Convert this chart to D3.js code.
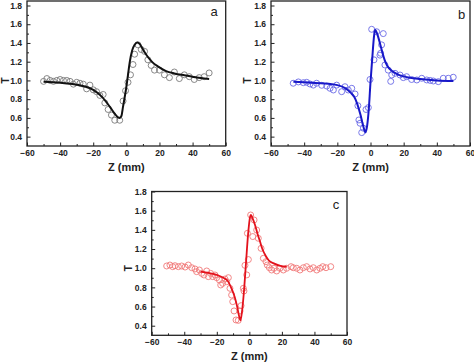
<!DOCTYPE html>
<html>
<head>
<meta charset="utf-8">
<script src="https://cdn.jsdelivr.net/npm/d3@7"></script>
<style>
  body { margin: 0; background: #fff; }
  svg { display: block; font-family: Arial, "Liberation Sans", sans-serif; }
  .tick text { font-size: 8.5px; font-weight: bold; fill: #222; }
  .tick line { stroke: #222; stroke-width: 1; }
</style>
</head>
<body>
<div id="chart"></div>
<script>
// ---- data ----
var xTicks = [-60, -40, -20, 0, 20, 40, 60];
var xMinor = [-50, -30, -10, 10, 30, 50];
var yTicks = [0.4, 0.6, 0.8, 1.0, 1.2, 1.4, 1.6, 1.8];
var yMinor = [0.5, 0.7, 0.9, 1.1, 1.3, 1.5, 1.7];
var panelNames = ["a", "b", "c"];

// panel a: measured points and fitted line
var ptsA = [[-50,0.99],[-48,1.02],[-46,1.00],[-44,0.99],[-42,1.00],[-40,1.01],[-38,1.00],[-36,1.00],[-34,0.99],
  [-32,0.96],[-30,0.98],[-28,0.97],[-26,0.96],[-24,0.91],[-22,0.95],[-20,0.90],[-18,0.88],[-16,0.84],[-14,0.85],
  [-13,0.76],[-11,0.69],[-9,0.63],[-7,0.575],[-4,0.575],[-2,0.78],[-0.5,0.89],[1,0.98],[2.5,1.06],[4,1.17],
  [5,1.28],[7,1.38],[9,1.33],[11,1.31],[13,1.22],[15,1.16],[17,1.11],[20,1.11],[23,1.06],[26,1.03],[29,1.09],
  [32,1.02],[35,1.06],[38,1.04],[41,1.01],[44,1.03],[47,1.04],[50,1.08]];
var fitA = [[-50,0.985],[-40,0.975],[-30,0.955],[-25,0.935],[-20,0.90],[-15,0.83],[-10,0.72],[-7,0.645],[-5,0.605],
  [-4,0.60],[-3,0.62],[-2,0.72],[0,0.93],[1,1.06],[2,1.19],[3.5,1.32],[5,1.38],[6.5,1.405],[8,1.39],[10,1.33],
  [13,1.25],[16,1.19],[19,1.15],[24,1.10],[29,1.075],[35,1.055],[40,1.04],[45,1.025],[50,1.016]];

// panel b
var ptsB = [[-46.6,0.970],[-43.5,0.984],[-40.5,0.976],[-38.5,0.98],[-36.5,0.962],[-34.5,0.95],[-32.5,0.97],
  [-29.4,0.948],[-26.4,0.94],[-24.4,0.916],[-22.4,0.898],[-20.4,0.95],[-17.4,0.88],[-15.4,0.933],[-13.4,0.898],
  [-11.3,0.916],[-9.3,0.855],[-7.6,0.73],[-7,0.578],[-6.3,0.543],[-5.3,0.443],[-4.3,0.49],[-2.7,0.69],[-1.3,0.71],
  [-0.3,1.01],[0.7,1.546],[2.1,1.22],[3.7,1.52],[5.7,1.27],[6.1,1.29],[6.7,1.38],[7.7,1.50],[8.7,1.165],[10.7,1.11],
  [12.2,0.99],[12.8,1.058],[14.8,1.076],[17.8,1.058],[19.8,1.03],[21.8,1.04],[24.8,1.01],[27.9,1.005],[30.9,1.023],
  [33.9,1.005],[36,1.0],[37.9,0.994],[40.9,0.987],[43.9,1.023],[46.9,1.023],[49.9,1.034]];
var fitB = [[-46.5,0.985],[-40,0.98],[-30,0.97],[-20,0.95],[-15,0.915],[-12,0.87],[-10,0.83],[-8,0.75],[-6,0.63],
  [-4.5,0.52],[-3,0.445],[-2,0.52],[-1,0.70],[0,0.98],[1,1.22],[2,1.45],[2.8,1.54],[4,1.50],[5.5,1.41],[7,1.31],
  [8.5,1.22],[10,1.16],[13,1.10],[17,1.06],[22,1.035],[30,1.015],[40,1.0],[50,0.995]];

// panel c
var ptsC = [[-50.8,1.023],[-48.8,1.033],[-47.1,1.016],[-45.7,1.026],[-43.6,1.016],[-41.6,1.023],[-39.5,1.012],
  [-37.5,1.033],[-35.4,1.005],[-33.4,0.992],[-32.4,0.964],[-30.7,0.981],[-29.3,0.946],[-27.9,0.929],[-26.2,0.971],
  [-25.2,0.912],[-23.8,0.946],[-22.5,0.912],[-21.1,0.929],[-20.1,0.901],[-18.4,0.877],[-17.6,0.825],[-16.4,0.842],
  [-15.0,0.887],[-13.9,0.859],[-12.9,0.901],[-11.9,0.79],[-10.9,0.72],[-10.2,0.651],[-9.4,0.554],[-8.2,0.46],
  [-6.8,0.456],[-5.7,0.554],[-5.1,0.609],[-3.7,0.79],[-3.3,0.762],[-2.7,1.03],[-1.6,0.93],[-1.2,1.364],[-0.6,1.09],
  [0.8,1.555],[2.1,1.33],[2.9,1.503],[4.5,1.398],[5.5,1.312],[7.2,1.207],[8.6,1.103],[10.2,1.068],[11.0,1.033],
  [12.3,1.005],[13.7,0.981],[15.1,0.999],[16.8,0.971],[18.8,0.999],[20.9,0.981],[22.9,0.999],[25.6,1.016],
  [27.0,1.005],[29.1,0.999],[31.1,0.981],[33.2,1.005],[35.2,1.016],[37.3,0.992],[39.3,1.005],[41.4,0.981],
  [43.4,0.999],[45.1,1.016],[47.1,1.005],[50.0,1.016]];
var fitC = [[-30,0.965],[-25,0.95],[-20,0.93],[-16,0.90],[-13,0.86],[-11,0.79],[-9,0.70],[-7.5,0.60],[-6.3,0.50],
  [-5.5,0.455],[-4.5,0.55],[-3.5,0.72],[-2,1.07],[-0.8,1.35],[0.5,1.54],[1,1.555],[2,1.52],[3.5,1.45],[5,1.36],
  [6.5,1.28],[8,1.20],[10,1.13],[12,1.08],[15,1.05],[19,1.025],[23,1.015]];

// ---- layout ----
var W = 474, H = 362;
var panels = [
  { name: panelNames[0], pts: ptsA, fit: fitA, left: 27, right: 225.7, top: 1, bottom: 146, y18: 5.5,
    dot: "#7a7a7a", line: "#111", lw: 2, lab: [214, 16] },
  { name: panelNames[1], pts: ptsB, fit: fitB, left: 271, right: 470, top: 1, bottom: 146, y18: 5.5,
    dot: "#6b6be6", line: "#1818c8", lw: 2, lab: [461.5, 19] },
  { name: panelNames[2], pts: ptsC, fit: fitC, left: 151.7, right: 347, top: 191.5, bottom: 335.3, y18: 191.5,
    dot: "#f07a7a", line: "#e3121c", lw: 1.8, lab: [336, 209] }
];

var svg = d3.select("#chart").append("svg")
  .attr("width", W).attr("height", H);

panels.forEach(function(p) {
  var x = d3.scaleLinear().domain([-60, 60]).range([p.left, p.right]);
  var y = d3.scaleLinear().domain([0.3, 1.8]).range([p.bottom, p.y18]);
  var g = svg.append("g");

  // minor ticks
  g.append("g").attr("transform", "translate(0," + p.bottom + ")")
    .call(d3.axisBottom(x).tickValues(xMinor).tickSize(-2).tickFormat(""))
    .call(function(s) { s.select(".domain").remove(); });
  g.append("g").attr("transform", "translate(" + p.left + ",0)")
    .call(d3.axisLeft(y).tickValues(yMinor).tickSize(-2).tickFormat(""))
    .call(function(s) { s.select(".domain").remove(); });

  // major ticks + labels
  g.append("g").attr("transform", "translate(0," + p.bottom + ")")
    .call(d3.axisBottom(x).tickValues(xTicks).tickSize(-3.5).tickPadding(4).tickFormat(d3.format("d")))
    .call(function(s) { s.select(".domain").remove(); });
  g.append("g").attr("transform", "translate(" + p.left + ",0)")
    .call(d3.axisLeft(y).tickValues(yTicks).tickSize(-3.5).tickPadding(5).tickFormat(d3.format(".1f")))
    .call(function(s) { s.select(".domain").remove(); });

  // frame
  g.append("rect")
    .attr("x", p.left).attr("y", p.top)
    .attr("width", p.right - p.left).attr("height", p.bottom - p.top)
    .attr("fill", "none").attr("stroke", "#222").attr("stroke-width", 1.3);

  // data circles
  g.selectAll("circle").data(p.pts).enter().append("circle")
    .attr("cx", function(d) { return x(d[0]); })
    .attr("cy", function(d) { return y(d[1]); })
    .attr("r", 3)
    .attr("fill", "none")
    .attr("stroke", p.dot)
    .attr("stroke-width", 0.9);

  // fitted line
  g.append("path").datum(p.fit)
    .attr("fill", "none")
    .attr("stroke", p.line)
    .attr("stroke-width", p.lw)
    .attr("d", d3.line()
      .x(function(d) { return x(d[0]); })
      .y(function(d) { return y(d[1]); })
      .curve(d3.curveMonotoneX));

  // axis titles
  g.append("text")
    .attr("x", (p.left + p.right) / 2)
    .attr("y", p.bottom + 25)
    .attr("text-anchor", "middle")
    .attr("font-size", 11).attr("font-weight", "bold").attr("fill", "#222")
    .text("Z (mm)");
  g.append("text")
    .attr("transform", "translate(" + Math.max(p.left - 20, 9) + "," + (y(1.0)) + ") rotate(-90)")
    .attr("text-anchor", "middle")
    .attr("font-size", 10).attr("font-weight", "bold").attr("fill", "#222")
    .text("T");

  // panel letter
  g.append("text")
    .attr("x", p.lab[0]).attr("y", p.lab[1])
    .attr("text-anchor", "middle")
    .attr("font-size", 13).attr("fill", "#222")
    .text(p.name);
});
</script>
</body>
</html>
